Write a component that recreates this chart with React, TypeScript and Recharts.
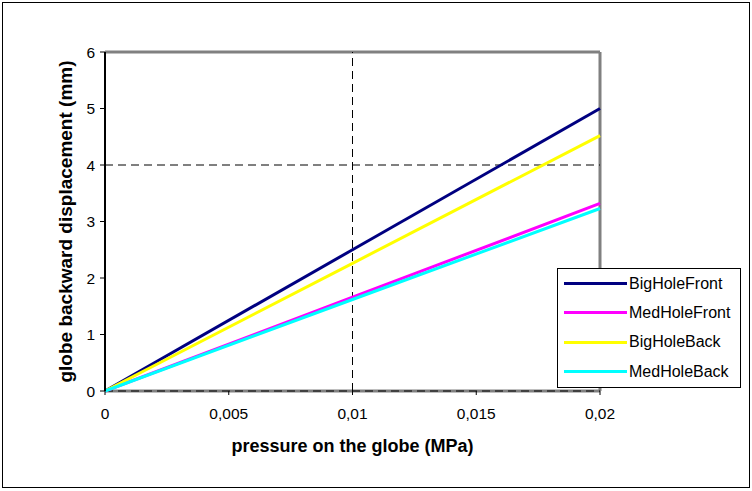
import React from 'react';
import { LineChart, Line, XAxis, YAxis, ReferenceLine } from 'recharts';

const pressure = [0, 0.01, 0.02];
const bigHoleFront = [0, 2.5, 5.0];
const medHoleFront = [0, 1.66, 3.32];
const bigHoleBack = [0, 2.26, 4.52];
const medHoleBack = [0, 1.62, 3.23];
const xTicks = [0, 0.005, 0.01, 0.015, 0.02];
const yTicks = [0, 1, 2, 3, 4, 5, 6];

const seriesNames = ['BigHoleFront', 'MedHoleFront', 'BigHoleBack', 'MedHoleBack'];
const seriesColors = ['#000080', '#FF00FF', '#FFFF00', '#00FFFF'];

const data = pressure.map((p, i) => ({
  p,
  BigHoleFront: bigHoleFront[i],
  MedHoleFront: medHoleFront[i],
  BigHoleBack: bigHoleBack[i],
  MedHoleBack: medHoleBack[i],
}));

const FONT = '"Liberation Sans", Arial, sans-serif';

const LegendBox = () => (
  <div
    style={{
      position: 'absolute',
      left: 557,
      top: 268,
      width: 184,
      height: 120,
      border: '1px solid #000',
      background: '#fff',
      boxSizing: 'border-box',
      fontFamily: FONT,
      fontSize: 16,
      color: '#000',
      paddingTop: 0,
    }}
  >
    {seriesNames.map((n, i) => (
      <div key={n} style={{ display: 'flex', alignItems: 'center', height: 29.3 }}>
        <div style={{ width: 63, height: 3, background: seriesColors[i], marginLeft: 6, marginRight: 2 }} />
        <span>{n}</span>
      </div>
    ))}
  </div>
);

export default function App() {
  return (
    <div style={{ position: 'absolute', left: 0, top: 0, width: 752, height: 491, background: '#fff' }}>
      <div
        style={{
          position: 'absolute',
          left: 2,
          top: 2,
          width: 748,
          height: 486,
          border: '1px solid #000',
          boxSizing: 'border-box',
        }}
      />
      <LineChart
        width={752}
        height={491}
        data={data}
        margin={{ top: 52, right: 152, left: 0, bottom: 0 }}
        style={{ fontFamily: FONT }}
      >
        <XAxis
          dataKey="p"
          type="number"
          domain={[0, 0.02]}
          ticks={xTicks}
          tickFormatter={(v: number) => String(v).replace('.', ',')}
          axisLine={false}
          tickLine={{ stroke: '#000' }}
          tickSize={4}
          tickMargin={13}
          height={100}
          tick={{ fill: '#000', fontSize: 15.5, fontFamily: FONT }}
          label={{
            value: 'pressure on the globe (MPa)',
            position: 'insideTop',
            offset: 48,
            style: { fill: '#000', fontSize: 18, fontWeight: 'bold', fontFamily: FONT },
          }}
        />
        <YAxis
          type="number"
          domain={[0, 6]}
          ticks={yTicks}
          axisLine={{ stroke: '#000', strokeWidth: 2 }}
          tickLine={{ stroke: '#000' }}
          tickSize={5}
          tickMargin={5}
          width={105}
          tick={{ fill: '#000', fontSize: 15.5, fontFamily: FONT }}
          label={{
            value: 'globe backward displacement (mm)',
            angle: -90,
            position: 'insideLeft',
            offset: 65,
            style: { fill: '#000', fontSize: 19, fontWeight: 'bold', fontFamily: FONT, textAnchor: 'middle' },
          }}
        />
        <ReferenceLine y={6} stroke="#808080" strokeWidth={3} />
        <ReferenceLine x={0.02} stroke="#808080" strokeWidth={3} />
        <ReferenceLine y={0} stroke="#808080" strokeWidth={3} />
        <ReferenceLine y={0} stroke="#000" strokeDasharray="8 5" />
        <ReferenceLine y={4} stroke="#000" strokeDasharray="8 5" />
        <ReferenceLine x={0.01} stroke="#000" strokeDasharray="8 5" />
        {seriesNames.map((n, i) => (
          <Line
            key={n}
            dataKey={n}
            stroke={seriesColors[i]}
            strokeWidth={3}
            dot={false}
            isAnimationActive={false}
          />
        ))}
      </LineChart>
      <LegendBox />
    </div>
  );
}
